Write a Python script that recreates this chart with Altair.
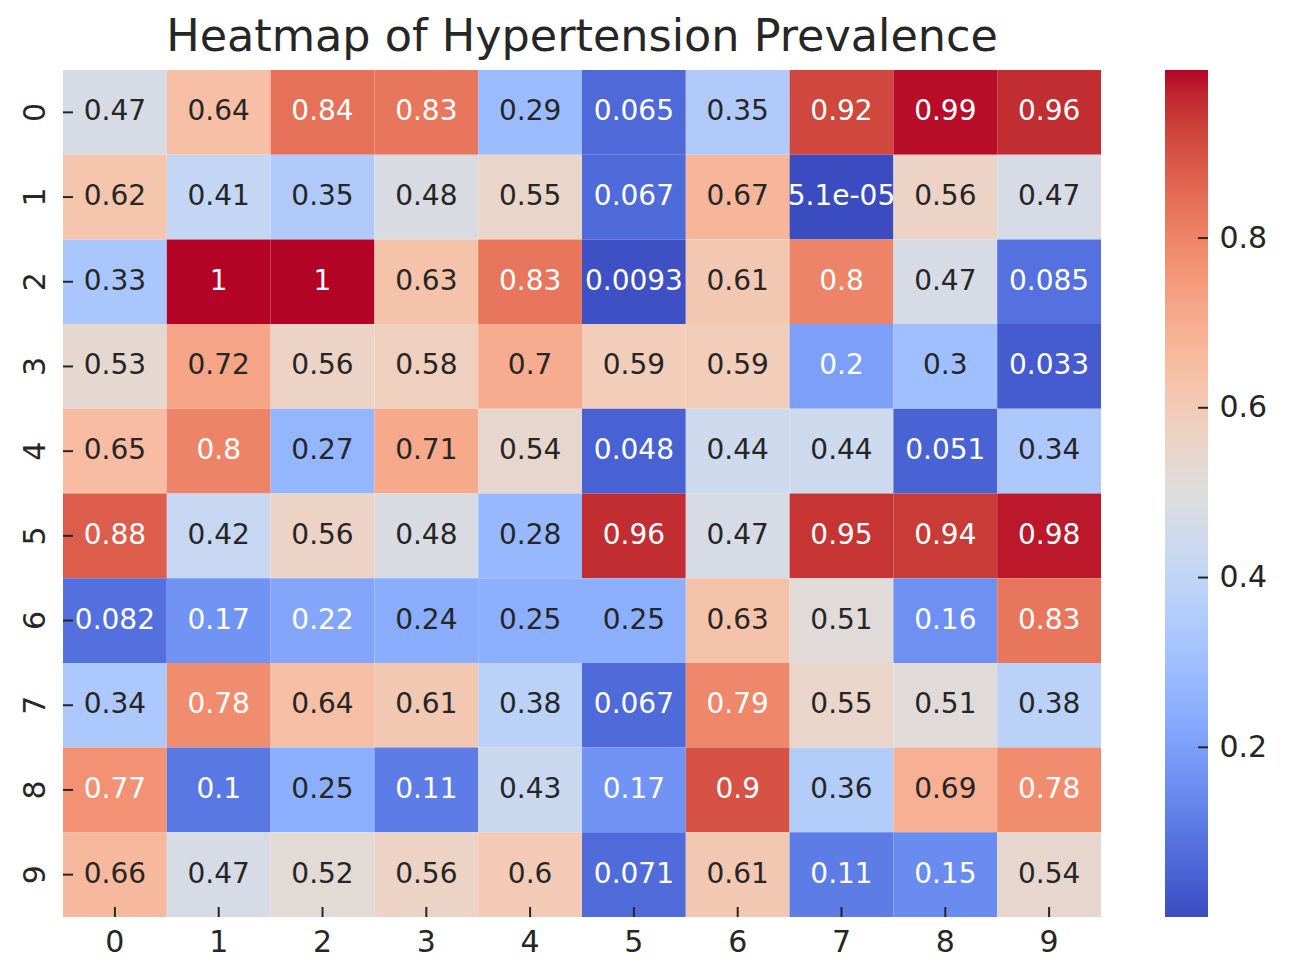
import altair as alt
import pandas as pd

# ---- data ----
row_labels = ["0", "1", "2", "3", "4", "5", "6", "7", "8", "9"]
col_labels = ["0", "1", "2", "3", "4", "5", "6", "7", "8", "9"]

row0 = [0.47, 0.64, 0.84, 0.83, 0.29, 0.065, 0.35, 0.92, 0.99, 0.96]
row1 = [0.62, 0.41, 0.35, 0.48, 0.55, 0.067, 0.67, 5.1e-05, 0.56, 0.47]
row2 = [0.33, 0.998, 0.998, 0.63, 0.83, 0.0093, 0.61, 0.8, 0.47, 0.085]
row3 = [0.53, 0.72, 0.56, 0.58, 0.7, 0.59, 0.59, 0.2, 0.3, 0.033]
row4 = [0.65, 0.8, 0.27, 0.71, 0.54, 0.048, 0.44, 0.44, 0.051, 0.34]
row5 = [0.88, 0.42, 0.56, 0.48, 0.28, 0.96, 0.47, 0.95, 0.94, 0.98]
row6 = [0.082, 0.17, 0.22, 0.24, 0.25, 0.25, 0.63, 0.51, 0.16, 0.83]
row7 = [0.34, 0.78, 0.64, 0.61, 0.38, 0.067, 0.79, 0.55, 0.51, 0.38]
row8 = [0.77, 0.1, 0.25, 0.11, 0.43, 0.17, 0.9, 0.36, 0.69, 0.78]
row9 = [0.66, 0.47, 0.52, 0.56, 0.6, 0.071, 0.61, 0.11, 0.15, 0.54]
rows = [row0, row1, row2, row3, row4, row5, row6, row7, row8, row9]

colorbar_ticks = [0.2, 0.4, 0.6, 0.8]

# matplotlib "coolwarm" colormap (33 anchor colours)
coolwarm = [
    "#3b4cc0", "#445ace", "#4e68d8", "#5775e1", "#6282ea", "#6c8ef1",
    "#779af7", "#82a5fb", "#8db0fe", "#98b9ff", "#a3c2ff", "#aec9fc",
    "#b8d0f9", "#c2d5f4", "#ccd9ee", "#d5dbe6", "#dddddd", "#e5d8d1",
    "#ecd3c5", "#f1ccb9", "#f5c4ad", "#f7bba0", "#f7b194", "#f7a688",
    "#f49a7b", "#f18d6f", "#ec7f63", "#e57058", "#de604d", "#d55042",
    "#cb3e38", "#c0282f", "#b40426",
]

TEXT_DARK = "#262626"
FONT = "DejaVu Sans"

vmin = min(min(r) for r in rows)
vmax = max(max(r) for r in rows)


def hex_rgb(h):
    return tuple(int(h[i:i + 2], 16) for i in (1, 3, 5))


def cmap(v):
    t = (v - vmin) / (vmax - vmin)
    p = t * (len(coolwarm) - 1)
    i = min(int(p), len(coolwarm) - 2)
    f = p - i
    a, b = hex_rgb(coolwarm[i]), hex_rgb(coolwarm[i + 1])
    return [(a[k] + (b[k] - a[k]) * f) / 255.0 for k in range(3)]


def luminance(rgb):
    lin = [c / 12.92 if c <= 0.03928 else ((c + 0.055) / 1.055) ** 2.4 for c in rgb]
    return 0.2126 * lin[0] + 0.7152 * lin[1] + 0.0722 * lin[2]


records = []
for ri, r in enumerate(rows):
    for ci, v in enumerate(r):
        records.append({
            "row": row_labels[ri],
            "col": col_labels[ci],
            "value": v,
            "label": format(v, ".2g"),
            "dark": bool(luminance(cmap(v)) > 0.408),
        })
df = pd.DataFrame(records)

W, H = 1038, 847
n = len(coolwarm)
domain = [vmin + (vmax - vmin) * i / (n - 1) for i in range(n)]
color_scale = alt.Scale(domain=domain, range=coolwarm, interpolate="rgb")

x_enc = alt.X("col:O", sort=col_labels, scale=alt.Scale(paddingInner=0, paddingOuter=0),
              axis=alt.Axis(title=None, labelAngle=0, ticks=False, domain=False,
                            labelFontSize=30, labelFont=FONT, labelColor=TEXT_DARK,
                            labelPadding=10))
y_enc = alt.Y("row:O", sort=row_labels, scale=alt.Scale(paddingInner=0, paddingOuter=0),
              axis=alt.Axis(title=None, labelAngle=270, ticks=False, domain=False,
                            labelFontSize=30, labelFont=FONT, labelColor=TEXT_DARK,
                            labelPadding=13))

base = alt.Chart(df)
cells = base.mark_rect(strokeWidth=0).encode(
    x=x_enc, y=y_enc,
    color=alt.Color("value:Q", scale=color_scale, legend=None),
)
texts_dark = base.transform_filter("datum.dark").mark_text(
    font=FONT, fontSize=28, baseline="middle", align="center", color=TEXT_DARK
).encode(
    x=alt.X("col:O", sort=col_labels),
    y=alt.Y("row:O", sort=row_labels),
    text=alt.Text("label:N"),
)
texts_light = base.transform_filter("!datum.dark").mark_text(
    font=FONT, fontSize=28, baseline="middle", align="center", color="#ffffff"
).encode(
    x=alt.X("col:O", sort=col_labels),
    y=alt.Y("row:O", sort=row_labels),
    text=alt.Text("label:N"),
)

xt = pd.DataFrame({"col": col_labels})
yt = pd.DataFrame({"row": row_labels})
xticks = alt.Chart(xt).mark_rule(color=TEXT_DARK, strokeWidth=2).encode(
    x=alt.X("col:O", sort=col_labels, bandPosition=0.5),
    y=alt.value(H - 10), y2=alt.value(H),
)
yticks = alt.Chart(yt).mark_rule(color=TEXT_DARK, strokeWidth=2).encode(
    y=alt.Y("row:O", sort=row_labels, bandPosition=0.5),
    x=alt.value(0), x2=alt.value(10),
)

heat = alt.layer(cells, texts_dark, texts_light, xticks, yticks).properties(
    width=W, height=H,
    title=alt.TitleParams("Heatmap of Hypertension Prevalence", font=FONT, fontSize=44.5,
                          fontWeight="normal", color=TEXT_DARK, anchor="middle", offset=10),
)

# ---- colorbar ----
cb_df = pd.DataFrame({"lo": [vmin], "hi": [vmax]})
cb_scale = alt.Scale(domain=[vmin, vmax], nice=False, zero=False)
gradient = alt.Gradient(
    gradient="linear",
    stops=[alt.GradientStop(color=c, offset=i / (n - 1)) for i, c in enumerate(coolwarm)],
    x1=0, x2=0, y1=1, y2=0,
)
cb_rect = alt.Chart(cb_df).mark_rect(fill=gradient, strokeWidth=0).encode(
    y=alt.Y("lo:Q", scale=cb_scale,
            axis=alt.Axis(title=None, orient="right", values=colorbar_ticks, format=".1f",
                          ticks=False, domain=False, grid=False, labelFontSize=30,
                          labelFont=FONT, labelColor=TEXT_DARK, labelPadding=11)),
    y2="hi:Q",
    x=alt.value(0), x2=alt.value(43),
)
cb_ticks = alt.Chart(pd.DataFrame({"t": colorbar_ticks})).mark_rule(
    color=TEXT_DARK, strokeWidth=2).encode(
    y=alt.Y("t:Q", scale=cb_scale),
    x=alt.value(33), x2=alt.value(43),
)
colorbar = alt.layer(cb_rect, cb_ticks).properties(width=43, height=H)

chart = alt.hconcat(heat, colorbar, spacing=64).properties(
    padding={"left": 20, "top": 14, "right": 5, "bottom": 5},
    background="white",
).configure_view(stroke=None)

chart.save("out.html", embed_options={"renderer": "svg", "actions": False})
